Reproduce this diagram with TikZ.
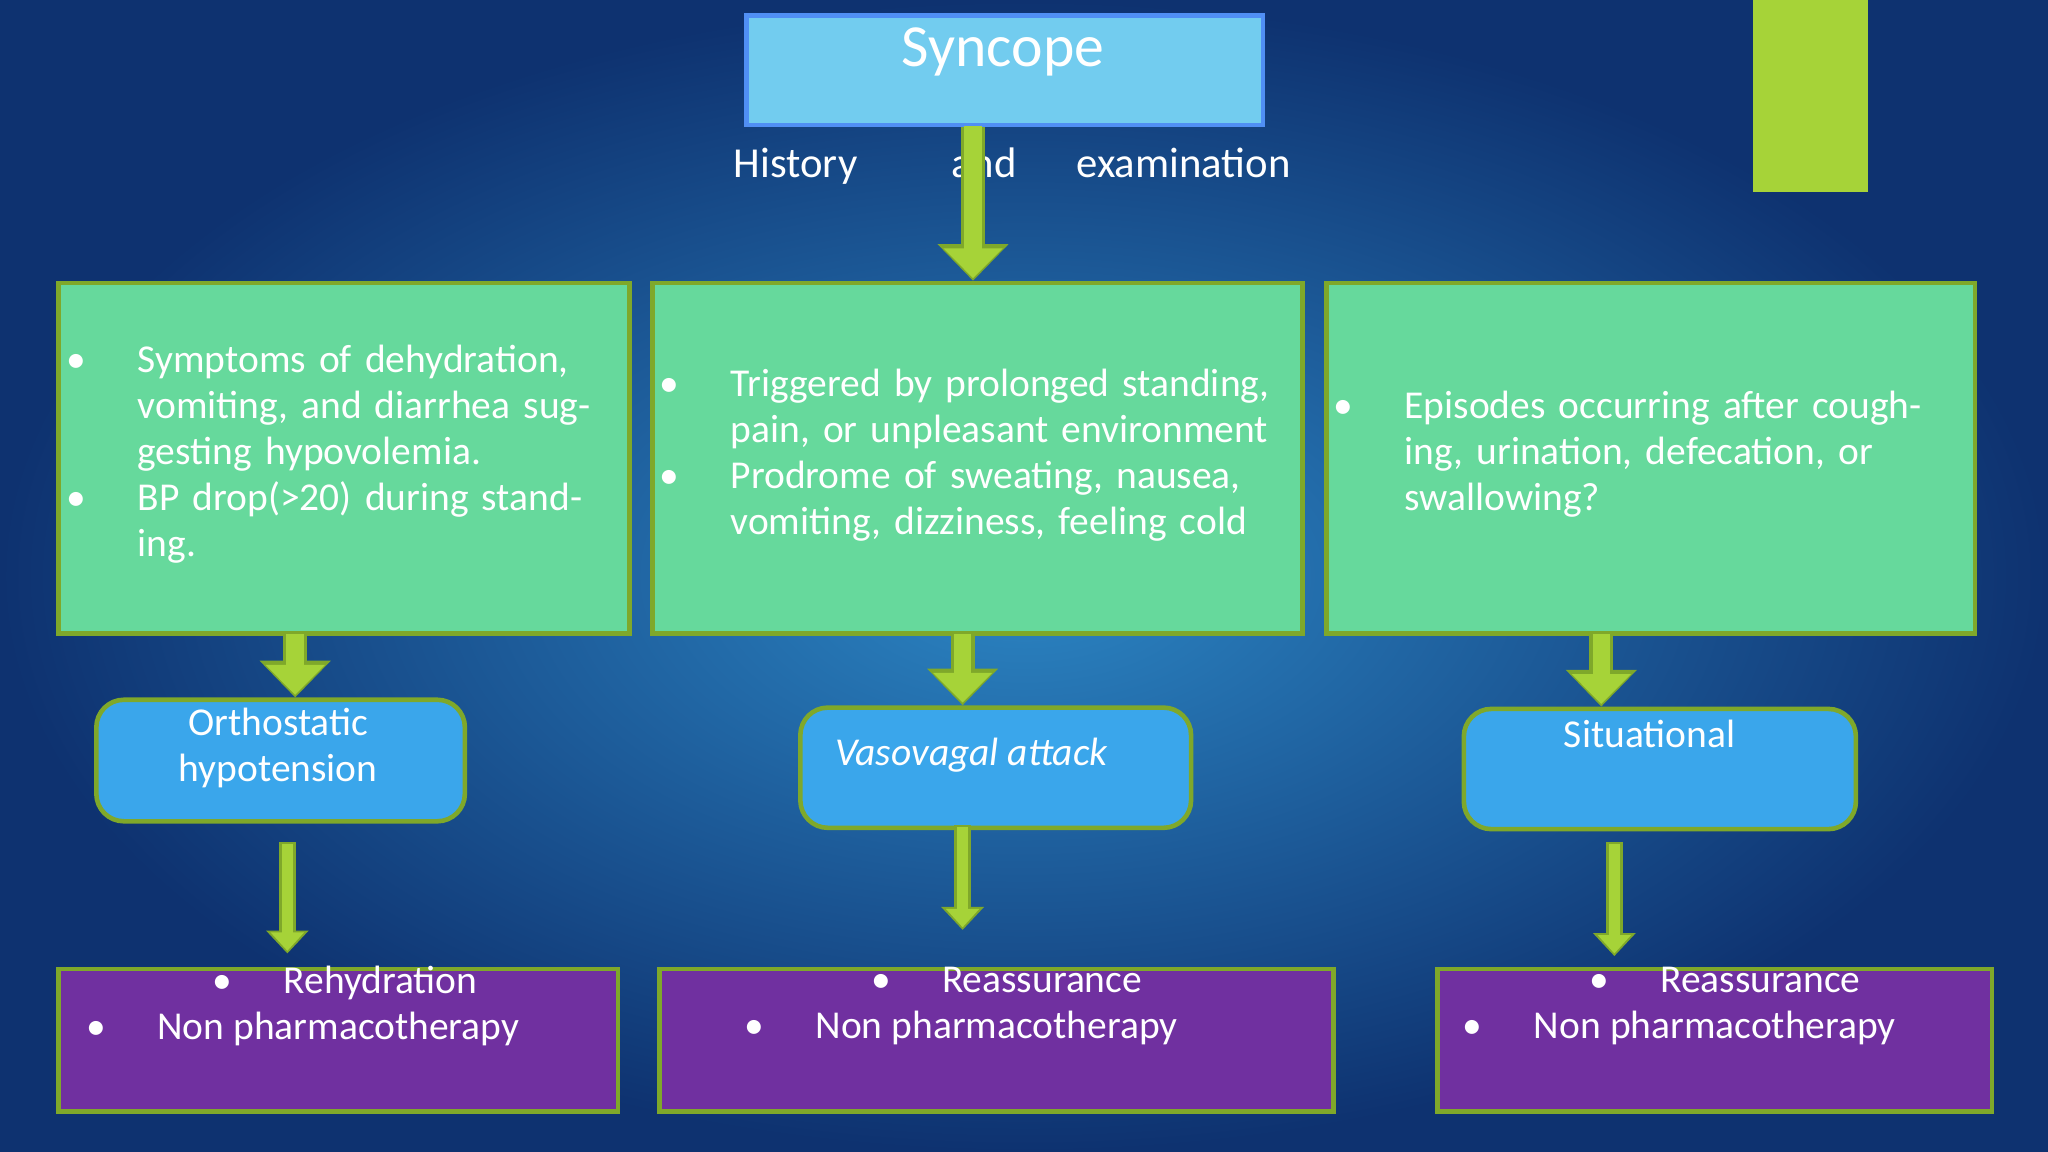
\documentclass[tikz,border=0pt]{standalone}
\usepackage{fontspec}
\setmainfont{Carlito}
\usetikzlibrary{arrows.meta,positioning,calc}
\definecolor{bgin}{HTML}{2C86C4}
\definecolor{bgout}{HTML}{0E3270}
\definecolor{topbox}{HTML}{72CCEF}
\definecolor{greenbox}{HTML}{66D99C}
\definecolor{bluebox}{HTML}{3AA6EB}
\definecolor{purplebox}{HTML}{7030A0}
\definecolor{lime}{HTML}{A6D338}
\definecolor{limedark}{HTML}{7FA82A}
\tikzset{
  box/.style={draw=limedark,line width=1pt,inner sep=0pt,anchor=north west},
  txt/.style={text=white,font=\fontsize{8.6}{10}\selectfont},
  bigarrow/.style={draw=limedark,line width=5.2pt,-{Triangle[width=15pt,length=8pt]}},
  bigarrowin/.style={draw=lime,line width=3.8pt,-{Triangle[width=12.5pt,length=6.5pt]}},
  thinarrow/.style={draw=limedark,line width=3.6pt,-{Triangle[width=9pt,length=5pt]}},
  thinarrowin/.style={draw=lime,line width=2.4pt,-{Triangle[width=7pt,length=4pt]}},
}
\newcommand{\bul}{\makebox[0pt][r]{\textbullet\hspace{1.3em}}}
\begin{document}
\begin{tikzpicture}[x=0.01cm,y=-0.01cm]
  \useasboundingbox (0,0) rectangle (1568,882);
  % fondo
  \shade[inner color=bgin,outer color=bgout] (0,0) rectangle (1568,882);
  \fill[lime] (1342,0) rectangle (1430,147);

  % titulo
  \node[box,fill=topbox,draw=topbox!70!blue,minimum width=3.95cm,minimum height=0.84cm] (top) at (570,10) {};
  \node[text=white,font=\fontsize{13}{15}\selectfont] (title) at (768,40) {Syncope};
  \node[txt,font=\fontsize{9.3}{11}\selectfont] (hist) at (775,127) {History\hspace{2.2em}and\hspace{1.4em}examination};

  % cajas verdes
  \node[box,fill=greenbox,minimum width=4.37cm,minimum height=2.68cm] (g1) at (43,215) {};
  \node[box,fill=greenbox,minimum width=4.97cm,minimum height=2.68cm] (g2) at (498,215) {};
  \node[box,fill=greenbox,minimum width=4.96cm,minimum height=2.68cm] (g3) at (1014,215) {};
  \node[txt,anchor=north west,text width=3.5cm,align=left] (t1) at (93,252)
    {\bul Symptoms of dehydration, vomiting, and diarrhea suggesting hypovolemia.\\
     \bul BP drop(>20) during standing.};
  \node[txt,anchor=north west,text width=4.4cm,align=left] (t2) at (547,270)
    {\bul Triggered by prolonged standing, pain, or unpleasant environment\\
     \bul Prodrome of sweating, nausea, vomiting, dizziness, feeling cold};
  \node[txt,anchor=north west,text width=4.2cm,align=left] (t3) at (1063,287)
    {\bul Episodes occurring after coughing, urination, defecation, or swallowing?};

  % cajas azules
  \node[box,fill=bluebox,rounded corners=6pt,minimum width=2.82cm,minimum height=0.93cm] (o1) at (72,534) {};
  \node[box,fill=bluebox,rounded corners=6pt,minimum width=2.99cm,minimum height=0.92cm] (o2) at (611,540) {};
  \node[box,fill=bluebox,rounded corners=6pt,minimum width=3.00cm,minimum height=0.92cm] (o3) at (1119,541) {};
  \node[txt,align=center] (d1) at (213,573) {Orthostatic\\hypotension};
  \node[txt,anchor=west] (d2) at (627,578) {\itshape Vasovagal attack};
  \node[txt] (d3) at (1263,562) {Situational};

  % cajas moradas
  \node[box,fill=purplebox,minimum width=4.28cm,minimum height=1.09cm] (p1) at (43,740) {};
  \node[box,fill=purplebox,minimum width=5.16cm,minimum height=1.09cm] (p2) at (503,740) {};
  \node[box,fill=purplebox,minimum width=4.24cm,minimum height=1.09cm] (p3) at (1099,740) {};
  \node[txt,align=left] (m1) at (259,770) {\hspace{3.2em}\bul Rehydration\\\bul Non pharmacotherapy};
  \node[txt,align=left] (m2) at (763,770) {\hspace{3.2em}\bul Reassurance\\\bul Non pharmacotherapy};
  \node[txt,align=left] (m3) at (1313,770) {\hspace{3.2em}\bul Reassurance\\\bul Non pharmacotherapy};

  % flechas
  \foreach \a/\b/\x in {top/g2/745,g1/o1/226,g2/o2/737,g3/o3/1226} {
    \draw[bigarrow] (\a.south -| \x,0) -- (\b.north -| \x,0);
    \draw[bigarrowin] ($(\a.south -| \x,0)+(0,-1)$) -- ($(\b.north -| \x,0)+(0,-2)$);
  }
  \coordinate (e1) at (220,730);
  \coordinate (e2) at (737,712);
  \coordinate (e3) at (1236,732);
  \coordinate (s1) at (220,645);
  \coordinate (s2) at (737,632);
  \coordinate (s3) at (1236,645);
  \foreach \i in {1,2,3} {
    \draw[thinarrow] (s\i) -- (e\i);
    \draw[thinarrowin] ($(s\i)+(0,1)$) -- ($(e\i)+(0,-2)$);
  }
\end{tikzpicture}
\end{document}
